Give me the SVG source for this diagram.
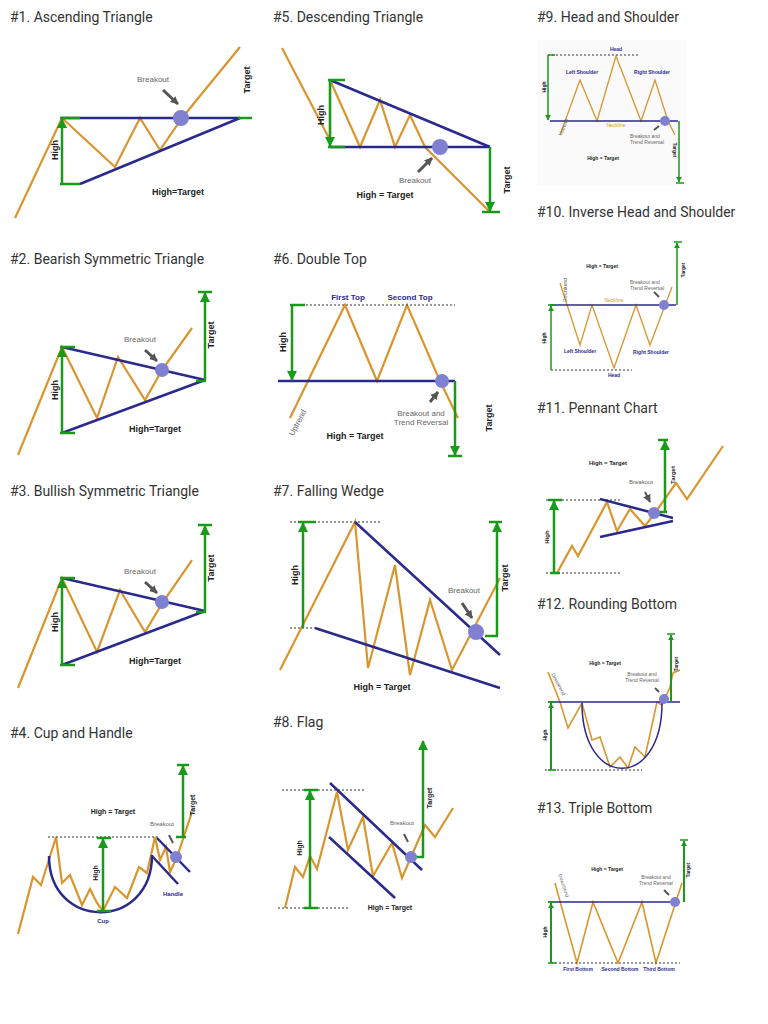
<svg xmlns="http://www.w3.org/2000/svg" width="768" height="1024" viewBox="0 0 768 1024">
<defs>
<marker id="ga" viewBox="0 0 10 10" refX="9" refY="5" markerWidth="10" markerHeight="12" markerUnits="userSpaceOnUse" orient="auto"><path d="M0,0 L10,5 L0,10 z" fill="#1a9a1a"/></marker>
<marker id="gs" viewBox="0 0 10 10" refX="9" refY="5" markerWidth="6" markerHeight="7" markerUnits="userSpaceOnUse" orient="auto"><path d="M0,0 L10,5 L0,10 z" fill="#1a9a1a"/></marker>
<marker id="ka" viewBox="0 0 10 10" refX="9" refY="5" markerWidth="8" markerHeight="8" markerUnits="userSpaceOnUse" orient="auto"><path d="M0,0 L10,5 L0,10 z" fill="#555"/></marker>
</defs>
<style>
.t{font-family:Roboto,"Liberation Sans",sans-serif;font-size:14px;fill:#333}
.o{fill:none;stroke:#d9952e;stroke-width:2.2;stroke-linejoin:miter}
.os{fill:none;stroke:#d9952e;stroke-width:1.3}
.n{fill:none;stroke:#2a2a8c;stroke-width:2.5}
.ns{fill:none;stroke:#2a2a8c;stroke-width:1.5}
.g{fill:none;stroke:#1a9a1a;stroke-width:2.5}
.gt{fill:none;stroke:#1a9a1a;stroke-width:1.5}
.d{fill:none;stroke:#333;stroke-width:1;stroke-dasharray:2,2}
.c{fill:#8080d0}
.k{stroke:#555;stroke-width:3}
.ks{stroke:#555;stroke-width:2}
.l{font-family:"Liberation Sans",Arial,sans-serif;font-size:9px;font-weight:bold;fill:#222}
.lg{font-family:"Liberation Sans",Arial,sans-serif;font-size:8px;fill:#666}
.lb{font-family:"Liberation Sans",Arial,sans-serif;font-size:8px;font-weight:bold;fill:#2a2a8c}
.s{font-family:"Liberation Sans",Arial,sans-serif;font-size:5px;font-weight:bold;fill:#222}
.sg{font-family:"Liberation Sans",Arial,sans-serif;font-size:5px;fill:#666}
.sb{font-family:"Liberation Sans",Arial,sans-serif;font-size:5px;font-weight:bold;fill:#2a2a8c}
.so{font-family:"Liberation Sans",Arial,sans-serif;font-size:5px;fill:#d9952e}
</style>
<rect width="768" height="1024" fill="#fff"/>
<g id="titles">
<text class="t" x="10" y="22">#1. Ascending Triangle</text>
<text class="t" x="273" y="22">#5. Descending Triangle</text>
<text class="t" x="537" y="22">#9. Head and Shoulder</text>
<text class="t" x="10" y="264">#2. Bearish Symmetric Triangle</text>
<text class="t" x="273" y="264">#6. Double Top</text>
<text class="t" x="537" y="217">#10. Inverse Head and Shoulder</text>
<text class="t" x="10" y="496">#3. Bullish Symmetric Triangle</text>
<text class="t" x="273" y="496">#7. Falling Wedge</text>
<text class="t" x="537" y="413">#11. Pennant Chart</text>
<text class="t" x="10" y="738">#4. Cup and Handle</text>
<text class="t" x="273" y="727">#8. Flag</text>
<text class="t" x="537" y="609">#12. Rounding Bottom</text>
<text class="t" x="537" y="813">#13. Triple Bottom</text>
</g>
<g id="chart1">
<polyline class="o" points="15,218 62,118 115,167 140,118 160,150 182,118 240,47"/>
<line class="n" x1="62" y1="118" x2="240" y2="118"/>
<line class="n" x1="80" y1="184" x2="240" y2="118"/>
<line class="g" x1="62" y1="184" x2="62" y2="119" marker-end="url(#ga)"/>
<line class="g" x1="60" y1="184" x2="80" y2="184"/><line class="g" x1="60" y1="118" x2="80" y2="118"/><line class="g" x1="238" y1="118" x2="252" y2="118"/>
<circle class="c" cx="181" cy="118" r="8"/>
<line class="k" x1="163" y1="90" x2="178" y2="104" marker-end="url(#ka)"/>
<text class="lg" x="153" y="82" text-anchor="middle">Breakout</text>
<text class="l" transform="translate(58,150) rotate(-90)" text-anchor="middle">High</text>
<text class="l" x="178" y="195" text-anchor="middle">High=Target</text>
<text class="l" transform="translate(250,80) rotate(-90)" text-anchor="middle">Target</text>
</g>
<g id="chart5">
<polyline class="o" points="282,48 330,140 330,80 360,147 380,100 395,147 410,115 425,147 490,212"/>
<line class="n" x1="330" y1="80" x2="490" y2="147"/>
<line class="n" x1="330" y1="147" x2="490" y2="147"/>
<line class="g" x1="330" y1="80" x2="330" y2="146" marker-end="url(#ga)"/>
<line class="g" x1="328" y1="80" x2="345" y2="80"/><line class="g" x1="328" y1="147" x2="345" y2="147"/>
<line class="g" x1="490" y1="147" x2="490" y2="211" marker-end="url(#ga)"/>
<line class="g" x1="482" y1="212" x2="500" y2="212"/>
<circle class="c" cx="440" cy="147" r="8"/>
<line class="k" x1="418" y1="172" x2="432" y2="158" marker-end="url(#ka)"/>
<text class="lg" x="415" y="183" text-anchor="middle">Breakout</text>
<text class="l" transform="translate(324,115) rotate(-90)" text-anchor="middle">High</text>
<text class="l" x="385" y="198" text-anchor="middle">High = Target</text>
<text class="l" transform="translate(510,180) rotate(-90)" text-anchor="middle">Target</text>
</g>
<g id="chart9">
<rect x="537" y="40" width="150" height="146" fill="#fafafa"/>
<polyline class="os" points="560,135 580,80 597,121 616,56 641,121 655,80 668,121 675,135"/>
<line class="ns" x1="550" y1="121" x2="678" y2="121"/>
<line class="d" x1="548" y1="55" x2="640" y2="55"/>
<line class="gt" x1="548" y1="55" x2="548" y2="120" marker-end="url(#gs)"/><line class="gt" x1="548" y1="55" x2="555" y2="55"/>
<line class="gt" x1="679" y1="121" x2="679" y2="182" marker-end="url(#gs)"/><line class="gt" x1="676" y1="183" x2="684" y2="183"/>
<circle class="c" cx="665" cy="121" r="5"/>
<line class="ks" x1="654" y1="130" x2="659" y2="126"/>
<text class="sb" x="616" y="51" text-anchor="middle">Head</text>
<text class="sb" x="582" y="74" text-anchor="middle">Left Shoulder</text>
<text class="sb" x="652" y="74" text-anchor="middle">Right Shoulder</text>
<text class="so" x="616" y="127" text-anchor="middle">Neckline</text>
<text class="sg" transform="translate(565,128) rotate(-65)" text-anchor="middle">Uptrend</text>
<text class="sg" x="630" y="138">Breakout and</text><text class="sg" x="630" y="144">Trend Reversal</text>
<text class="s" x="603" y="160" text-anchor="middle">High = Target</text>
<text class="s" transform="translate(546,87) rotate(-90)" text-anchor="middle">High</text>
<text class="s" transform="translate(673,150) rotate(90)" text-anchor="middle">Target</text>
</g>
<g id="chart10">
<polyline class="os" points="560,283 580,345 592,305 614,368 636,305 650,345 672,287"/>
<line class="ns" x1="550" y1="305" x2="676" y2="305"/>
<line class="d" x1="551" y1="370" x2="632" y2="370"/>
<line class="gt" x1="551" y1="370" x2="551" y2="306" marker-end="url(#gs)"/><line class="gt" x1="548" y1="305" x2="556" y2="305"/>
<line class="gt" x1="677" y1="305" x2="677" y2="243" marker-end="url(#gs)"/><line class="gt" x1="674" y1="242" x2="682" y2="242"/>
<circle class="c" cx="664" cy="305" r="5"/>
<line class="ks" x1="654" y1="292" x2="659" y2="297"/>
<text class="s" x="602" y="268" text-anchor="middle">High = Target</text>
<text class="sg" transform="translate(567,290) rotate(-90)" text-anchor="middle">Downtrend</text>
<text class="so" x="614" y="302" text-anchor="middle">Neckline</text>
<text class="sg" x="630" y="284">Breakout and</text><text class="sg" x="630" y="290">Trend Reversal</text>
<text class="sb" x="580" y="353" text-anchor="middle">Left Shoulder</text>
<text class="sb" x="651" y="354" text-anchor="middle">Right Shoulder</text>
<text class="sb" x="614" y="377" text-anchor="middle">Head</text>
<text class="s" transform="translate(546,338) rotate(-90)" text-anchor="middle">High</text>
<text class="s" transform="translate(685,270) rotate(-90)" text-anchor="middle">Target</text>
</g>
<g id="chart2">
<polyline class="o" points="18,455 62,347 97,418 118,357 145,400 162,370 192,328"/>
<line class="n" x1="62" y1="347" x2="205" y2="380"/>
<line class="n" x1="62" y1="433" x2="205" y2="380"/>
<line class="g" x1="62" y1="433" x2="62" y2="348" marker-end="url(#ga)"/>
<line class="g" x1="60" y1="433" x2="75" y2="433"/><line class="g" x1="60" y1="347" x2="75" y2="347"/>
<line class="g" x1="205" y1="381" x2="205" y2="293" marker-end="url(#ga)"/>
<line class="g" x1="196" y1="381" x2="206" y2="381"/><line class="g" x1="198" y1="292" x2="212" y2="292"/>
<circle class="c" cx="162" cy="370" r="7"/>
<line class="k" x1="145" y1="350" x2="157" y2="361" marker-end="url(#ka)"/>
<text class="lg" x="140" y="342" text-anchor="middle">Breakout</text>
<text class="l" transform="translate(58,390) rotate(-90)" text-anchor="middle">High</text>
<text class="l" x="155" y="432" text-anchor="middle">High=Target</text>
<text class="l" transform="translate(214,335) rotate(-90)" text-anchor="middle">Target</text>
</g>
<g id="chart3">
<polyline class="o" points="18,688 62,578 97,652 120,590 145,632 163,602 192,560"/>
<line class="n" x1="62" y1="578" x2="205" y2="611"/>
<line class="n" x1="62" y1="665" x2="205" y2="611"/>
<line class="g" x1="62" y1="665" x2="62" y2="579" marker-end="url(#ga)"/>
<line class="g" x1="60" y1="665" x2="75" y2="665"/><line class="g" x1="60" y1="578" x2="75" y2="578"/>
<line class="g" x1="205" y1="612" x2="205" y2="526" marker-end="url(#ga)"/>
<line class="g" x1="196" y1="612" x2="206" y2="612"/><line class="g" x1="198" y1="525" x2="212" y2="525"/>
<circle class="c" cx="162" cy="602" r="7"/>
<line class="k" x1="145" y1="582" x2="157" y2="593" marker-end="url(#ka)"/>
<text class="lg" x="140" y="574" text-anchor="middle">Breakout</text>
<text class="l" transform="translate(58,622) rotate(-90)" text-anchor="middle">High</text>
<text class="l" x="155" y="664" text-anchor="middle">High=Target</text>
<text class="l" transform="translate(214,568) rotate(-90)" text-anchor="middle">Target</text>
</g>
<g id="chart6">
<polyline class="o" points="290,418 345,305 377,381 407,305 440,381 458,418"/>
<line class="d" x1="290" y1="305" x2="455" y2="305"/>
<line class="n" x1="278" y1="381" x2="455" y2="381"/>
<line class="g" x1="292" y1="305" x2="292" y2="380" marker-end="url(#ga)"/>
<line class="g" x1="290" y1="305" x2="305" y2="305"/>
<line class="g" x1="455" y1="381" x2="455" y2="455" marker-end="url(#ga)"/>
<line class="g" x1="448" y1="456" x2="462" y2="456"/>
<circle class="c" cx="442" cy="381" r="7"/>
<line class="k" x1="430" y1="402" x2="438" y2="392" marker-end="url(#ka)"/>
<text class="lb" x="348" y="300" text-anchor="middle">First Top</text>
<text class="lb" x="410" y="300" text-anchor="middle">Second Top</text>
<text class="lg" transform="translate(300,424) rotate(-62)" text-anchor="middle">Uptrend</text>
<text class="l" x="355" y="439" text-anchor="middle">High = Target</text>
<text class="lg" x="421" y="416" text-anchor="middle">Breakout and</text>
<text class="lg" x="421" y="425" text-anchor="middle">Trend Reversal</text>
<text class="l" transform="translate(286,342) rotate(-90)" text-anchor="middle">High</text>
<text class="l" transform="translate(492,418) rotate(-90)" text-anchor="middle">Target</text>
</g>
<g id="chart7">
<polyline class="o" points="280,670 355,522 368,668 395,565 410,675 430,600 452,670 500,578"/>
<line class="d" x1="290" y1="522" x2="380" y2="522"/>
<line class="d" x1="290" y1="628" x2="318" y2="628"/>
<line class="n" x1="355" y1="522" x2="500" y2="655"/>
<line class="n" x1="315" y1="628" x2="500" y2="688"/>
<line class="g" x1="303" y1="628" x2="303" y2="523" marker-end="url(#ga)"/>
<line class="g" x1="298" y1="522" x2="316" y2="522"/>
<line class="g" x1="497" y1="636" x2="497" y2="523" marker-end="url(#ga)"/>
<line class="g" x1="485" y1="636" x2="498" y2="636"/><line class="g" x1="489" y1="522" x2="502" y2="522"/>
<circle class="c" cx="476" cy="632" r="8"/>
<line class="k" x1="462" y1="603" x2="472" y2="618" marker-end="url(#ka)"/>
<text class="lg" x="464" y="593" text-anchor="middle">Breakout</text>
<text class="l" transform="translate(298,575) rotate(-90)" text-anchor="middle">High</text>
<text class="l" x="382" y="690" text-anchor="middle">High = Target</text>
<text class="l" transform="translate(508,578) rotate(-90)" text-anchor="middle">Target</text>
</g>
<g id="chart11">
<polyline class="o" points="557,573 572,546 578,556 607,502 617,531 630,509 645,526 655,513 676,483 687,499 723,446"/>
<line class="n" x1="600" y1="499" x2="673" y2="518"/>
<line class="n" x1="600" y1="537" x2="673" y2="521"/>
<line class="d" x1="546" y1="500" x2="622" y2="500"/>
<line class="d" x1="546" y1="573" x2="622" y2="573"/>
<line class="g" x1="554" y1="573" x2="554" y2="501" marker-end="url(#ga)"/>
<line class="g" x1="550" y1="573" x2="560" y2="573"/><line class="g" x1="548" y1="500" x2="562" y2="500"/>
<line class="g" x1="665" y1="512" x2="665" y2="441" marker-end="url(#ga)"/>
<line class="g" x1="658" y1="512" x2="667" y2="512"/><line class="g" x1="658" y1="440" x2="668" y2="440"/>
<circle class="c" cx="654" cy="513" r="6"/>
<line class="ks" x1="645" y1="492" x2="650" y2="502" marker-end="url(#ka)"/>
<text class="s" x="608" y="465" text-anchor="middle" style="font-size:6px">High = Target</text>
<text class="sg" x="641" y="484" text-anchor="middle" style="font-size:6px">Breakout</text>
<text class="s" transform="translate(675,475) rotate(-90)" text-anchor="middle" style="font-size:6px">Target</text>
<text class="s" transform="translate(549,537) rotate(-90)" text-anchor="middle" style="font-size:6px">High</text>
</g>
<g id="chart4">
<polyline class="o" points="18,934 33,877 41,885 56,837 62,883 70,875 82,905 90,889 97,903 103,911 115,887 127,898 139,867 147,873 155,837 160,860 166,847 170,872 177,857 187,827 192,812"/>
<path class="n" d="M49,856 C49,931 152,931 152,855"/>
<line class="n" x1="157" y1="838" x2="190" y2="872"/>
<line class="n" x1="152" y1="856" x2="178" y2="884"/>
<line class="d" x1="48" y1="837" x2="160" y2="837"/>
<line class="g" x1="103" y1="911" x2="103" y2="839" marker-end="url(#ga)"/>
<line class="g" x1="97" y1="838" x2="111" y2="838"/><line class="g" x1="97" y1="911" x2="111" y2="911"/>
<line class="g" x1="183" y1="837" x2="183" y2="766" marker-end="url(#ga)"/>
<line class="g" x1="176" y1="837" x2="186" y2="837"/><line class="g" x1="177" y1="765" x2="189" y2="765"/>
<circle class="c" cx="176" cy="857" r="6"/>
<line class="ks" x1="169" y1="835" x2="173" y2="843"/>
<text class="l" x="113" y="814" text-anchor="middle" style="font-size:7px">High = Target</text>
<text class="lg" x="162" y="826" text-anchor="middle" style="font-size:6px">Breakout</text>
<text class="l" transform="translate(98,873) rotate(-90)" text-anchor="middle" style="font-size:7px">High</text>
<text class="lb" x="103" y="923" text-anchor="middle" style="font-size:6px">Cup</text>
<text class="lb" x="173" y="896" text-anchor="middle" style="font-size:6px">Handle</text>
<text class="l" transform="translate(195,805) rotate(-90)" text-anchor="middle" style="font-size:7px">Target</text>
</g>
<g id="chart8">
<polyline class="o" points="285,908 295,867 303,877 310,856 317,869 337,792 348,850 363,817 373,876 392,843 402,878 411,857 425,825 435,837 453,808"/>
<line class="n" x1="330" y1="783" x2="422" y2="870"/>
<line class="n" x1="329" y1="837" x2="395" y2="898"/>
<line class="d" x1="282" y1="790" x2="365" y2="790"/>
<line class="d" x1="278" y1="908" x2="350" y2="908"/>
<line class="g" x1="310" y1="908" x2="310" y2="791" marker-end="url(#ga)"/>
<line class="g" x1="304" y1="790" x2="318" y2="790"/><line class="g" x1="304" y1="908" x2="318" y2="908"/>
<line class="g" x1="423" y1="857" x2="423" y2="741" marker-end="url(#ga)"/>
<line class="g" x1="414" y1="857" x2="424" y2="857"/>
<circle class="c" cx="411" cy="857" r="6"/>
<line class="ks" x1="404" y1="834" x2="408" y2="842"/>
<text class="l" x="390" y="910" text-anchor="middle" style="font-size:7px">High = Target</text>
<text class="lg" x="402" y="825" text-anchor="middle" style="font-size:6px">Breakout</text>
<text class="l" transform="translate(302,848) rotate(-90)" text-anchor="middle" style="font-size:7px">High</text>
<text class="l" transform="translate(432,798) rotate(-90)" text-anchor="middle" style="font-size:7px">Target</text>
</g>
<g id="chart12">
<polyline class="os" style="stroke-width:1.6" points="548,672 560,702 568,728 582,703 592,740 600,737 610,767 620,757 628,768 635,747 645,757 657,702 662,705 670,687 673,673 680,670"/>
<path class="ns" d="M582,703 C582,790 662,790 662,703"/>
<line class="ns" x1="548" y1="702" x2="680" y2="702"/>
<line class="d" x1="545" y1="770" x2="642" y2="770"/>
<line class="gt" style="stroke-width:2" x1="551" y1="770" x2="551" y2="703" marker-end="url(#gs)"/>
<line class="gt" x1="548" y1="702" x2="556" y2="702"/><line class="gt" x1="548" y1="770" x2="556" y2="770"/>
<line class="gt" style="stroke-width:2" x1="671" y1="702" x2="671" y2="635" marker-end="url(#gs)"/>
<line class="gt" x1="667" y1="634" x2="675" y2="634"/>
<circle class="c" cx="664" cy="699" r="5"/>
<line class="ks" x1="655" y1="688" x2="659" y2="692"/>
<text class="s" x="605" y="665" text-anchor="middle">High = Target</text>
<text class="sg" x="642" y="676" text-anchor="middle">Breakout and</text><text class="sg" x="642" y="682" text-anchor="middle">Trend Reversal</text>
<text class="sg" transform="translate(557,685) rotate(62)" text-anchor="middle">Downtrend</text>
<text class="s" transform="translate(547,735) rotate(-90)" text-anchor="middle">High</text>
<text class="s" transform="translate(678,664) rotate(-90)" text-anchor="middle">Target</text>
</g>
<g id="chart13">
<polyline class="os" style="stroke-width:1.6" points="555,883 577,963 593,902 618,963 642,902 656,963 682,883"/>
<line class="ns" x1="548" y1="902" x2="680" y2="902"/>
<line class="d" x1="551" y1="963" x2="680" y2="963"/>
<line class="gt" style="stroke-width:2" x1="551" y1="963" x2="551" y2="903" marker-end="url(#gs)"/>
<line class="gt" x1="548" y1="902" x2="556" y2="902"/><line class="gt" x1="548" y1="963" x2="556" y2="963"/>
<line class="gt" style="stroke-width:2" x1="684" y1="902" x2="684" y2="841" marker-end="url(#gs)"/>
<line class="gt" x1="680" y1="840" x2="688" y2="840"/>
<circle class="c" cx="675" cy="902" r="5"/>
<line class="ks" x1="664" y1="890" x2="669" y2="895"/>
<text class="s" x="607" y="871" text-anchor="middle">High = Target</text>
<text class="sg" x="656" y="879" text-anchor="middle">Breakout and</text><text class="sg" x="656" y="885" text-anchor="middle">Trend Reversal</text>
<text class="sg" transform="translate(562,886) rotate(72)" text-anchor="middle">Downtrend</text>
<text class="sb" x="578" y="971" text-anchor="middle">First Bottom</text>
<text class="sb" x="620" y="971" text-anchor="middle">Second Bottom</text>
<text class="sb" x="659" y="971" text-anchor="middle">Third Bottom</text>
<text class="s" transform="translate(547,932) rotate(-90)" text-anchor="middle">High</text>
<text class="s" transform="translate(690,870) rotate(-90)" text-anchor="middle">Target</text>
</g>
</svg>
